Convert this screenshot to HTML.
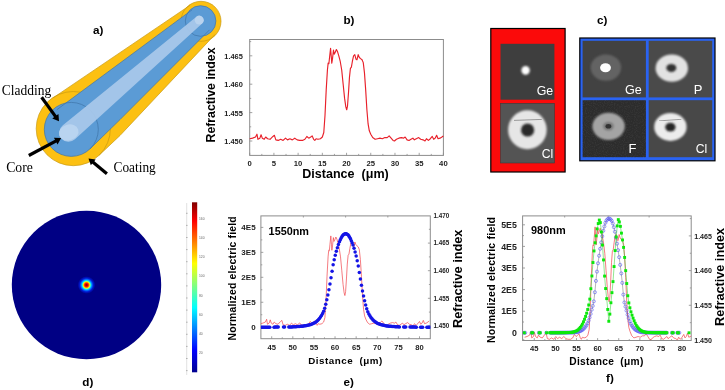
<!DOCTYPE html>
<html lang="en"><head><meta charset="utf-8"><title>Fiber figure</title>
<style>html,body{margin:0;padding:0;background:#fff;}svg{display:block;}</style></head><body>
<svg width="725" height="390" viewBox="0 0 725 390">
<defs>
<filter id="b1" x="-20%" y="-20%" width="140%" height="140%"><feGaussianBlur stdDeviation="0.6"/></filter>
<filter id="b2" x="-20%" y="-20%" width="140%" height="140%"><feGaussianBlur stdDeviation="0.8"/></filter>
<filter id="b03" x="-5%" y="-5%" width="110%" height="110%"><feGaussianBlur stdDeviation="0.35"/></filter>
<filter id="nz" x="0" y="0" width="100%" height="100%"><feTurbulence type="fractalNoise" baseFrequency="0.9" numOctaves="2" seed="3" result="n"/><feColorMatrix in="n" type="matrix" values="0 0 0 0 1  0 0 0 0 1  0 0 0 0 1  0.9 0 0 0 -0.38"/></filter>
<radialGradient id="spot"><stop offset="0" stop-color="#8a0000"/><stop offset="0.09" stop-color="#b00000"/><stop offset="0.21" stop-color="#ff1800"/><stop offset="0.31" stop-color="#ff9a00"/><stop offset="0.37" stop-color="#f4f400"/><stop offset="0.43" stop-color="#7dff7a"/><stop offset="0.50" stop-color="#00e4ff"/><stop offset="0.62" stop-color="#0070ff"/><stop offset="0.78" stop-color="#0018d0"/><stop offset="1" stop-color="#000084"/></radialGradient>
<linearGradient id="jet" x1="0" y1="0" x2="0" y2="1"><stop offset="0" stop-color="#800000"/><stop offset="0.11" stop-color="#ff0000"/><stop offset="0.36" stop-color="#ffff00"/><stop offset="0.49" stop-color="#80ff80"/><stop offset="0.62" stop-color="#00ffff"/><stop offset="0.87" stop-color="#0000ff"/><stop offset="1" stop-color="#00008f"/></linearGradient>
</defs>
<rect width="725" height="390" fill="#fff"/>
<g>
<polygon points="52.69,98.13 190.11,5.2 215.01,34.48 120,135.5 98.79,155.56" fill="#fcc012"/>
<circle cx="73.3" cy="128.6" r="37.1" fill="#fcc012"/>
<circle cx="201" cy="21.3" r="20" fill="#fcc012"/>
<polyline points="52.69,98.13 190.11,5.2" stroke="#c99a10" stroke-width="0.7" fill="none"/>
<polyline points="98.79,155.56 120,135.5 215.01,34.48" stroke="#c99a10" stroke-width="0.7" fill="none"/>
<circle cx="73.3" cy="128.6" r="37.1" fill="none" stroke="#c99a10" stroke-width="0.7"/>
<circle cx="201" cy="21.3" r="20" fill="none" stroke="#c99a10" stroke-width="0.7"/>
<polygon points="56.78,109.75 192.23,9.67 209.5,29.88 120,119.6 90.16,148.72" fill="#5b9bd5"/>
<circle cx="71.3" cy="129.4" r="27" fill="#5b9bd5"/>
<circle cx="200.6" cy="21" r="15.3" fill="#5b9bd5"/>
<polyline points="56.78,109.75 192.23,9.67" stroke="#3f74a8" stroke-width="0.7" fill="none"/>
<polyline points="90.16,148.72 120,119.6 209.5,29.88" stroke="#3f74a8" stroke-width="0.7" fill="none"/>
<circle cx="71.3" cy="129.4" r="27" fill="none" stroke="#3f74a8" stroke-width="0.7"/>
<circle cx="200.6" cy="21" r="15.3" fill="none" stroke="#3f74a8" stroke-width="0.7"/>
<path d="M74.96 139.37 L202.16 23.45 A4.4 4.4 0 0 0 196.43 16.78 L62.84 125.28 A9.3 9.3 0 1 0 74.96 139.37 Z" fill="#a9c9ea" opacity="0.92"/>
<ellipse cx="68.7" cy="132.5" rx="10" ry="8" fill="#b9d4f0" transform="rotate(-18 68.7 132.5)"/>
<circle cx="199.2" cy="20.2" r="4.4" fill="#b9d3ee"/>
</g>
<line x1="41.6" y1="97.2" x2="55.96" y2="117.08" stroke="#000" stroke-width="3.2"/>
<polygon points="59,121.3 52.29,118.5 58.45,114.05" fill="#000"/>
<line x1="28.8" y1="155.5" x2="56.62" y2="140.56" stroke="#000" stroke-width="3.2"/>
<polygon points="61.2,138.1 57.54,144.38 53.94,137.69" fill="#000"/>
<line x1="106.9" y1="173.8" x2="92.49" y2="161.74" stroke="#000" stroke-width="3.2"/>
<polygon points="88.5,158.4 95.69,159.47 90.82,165.29" fill="#000"/>
<text x="1.7" y="95.2" font-family='"Liberation Serif", "Times New Roman", serif' font-size="14.6" font-weight="normal" fill="#000" text-anchor="start" textLength="49.5" lengthAdjust="spacingAndGlyphs">Cladding</text>
<text x="6.2" y="171.9" font-family='"Liberation Serif", "Times New Roman", serif' font-size="14.6" font-weight="normal" fill="#000" text-anchor="start" textLength="26.7" lengthAdjust="spacingAndGlyphs">Core</text>
<text x="113.5" y="171.9" font-family='"Liberation Serif", "Times New Roman", serif' font-size="14.6" font-weight="normal" fill="#000" text-anchor="start" textLength="42.3" lengthAdjust="spacingAndGlyphs">Coating</text>
<text x="98.2" y="34.4" font-family='"Liberation Sans", Arial, sans-serif' font-size="11.7" font-weight="bold" fill="#000" text-anchor="middle">a)</text>
<text x="349" y="23.6" font-family='"Liberation Sans", Arial, sans-serif' font-size="11.7" font-weight="bold" fill="#000" text-anchor="middle">b)</text>
<text x="602.3" y="23.8" font-family='"Liberation Sans", Arial, sans-serif' font-size="11.7" font-weight="bold" fill="#000" text-anchor="middle">c)</text>
<text x="87.8" y="386.2" font-family='"Liberation Sans", Arial, sans-serif' font-size="11.7" font-weight="bold" fill="#000" text-anchor="middle">d)</text>
<text x="348.6" y="385.9" font-family='"Liberation Sans", Arial, sans-serif' font-size="11.7" font-weight="bold" fill="#000" text-anchor="middle">e)</text>
<text x="609.9" y="381.9" font-family='"Liberation Sans", Arial, sans-serif' font-size="11.7" font-weight="bold" fill="#000" text-anchor="middle">f)</text>
<g>
<rect x="249.7" y="39.5" width="193.7" height="115.9" fill="#fff" stroke="#8c8c8c" stroke-width="1"/>
<path d="M249.7 155.4 v-2.6 M261.81 155.4 v-1.5 M273.91 155.4 v-2.6 M286.02 155.4 v-1.5 M298.12 155.4 v-2.6 M310.23 155.4 v-1.5 M322.34 155.4 v-2.6 M334.44 155.4 v-1.5 M346.55 155.4 v-2.6 M358.66 155.4 v-1.5 M370.76 155.4 v-2.6 M382.87 155.4 v-1.5 M394.98 155.4 v-2.6 M407.08 155.4 v-1.5 M419.19 155.4 v-2.6 M431.29 155.4 v-1.5 M443.4 155.4 v-2.6 M249.7 141 h2.6 M249.7 126.8 h1.5 M249.7 112.6 h2.6 M249.7 98.4 h1.5 M249.7 84.2 h2.6 M249.7 70 h1.5 M249.7 55.8 h2.6 M249.7 41.6 h1.5" stroke="#8c8c8c" stroke-width="0.8" fill="none"/>
<polyline points="249.7,138.73 252.61,138.16 255.51,137.02 256.96,134.18 257.93,139.3 259.87,138.16 261.08,134.75 262.29,138.16 264.23,139.3 265.68,137.02 267.62,138.73 270.04,139.3 272.94,136.46 274.4,135.32 275.85,139.86 278.27,140.43 280.69,139.3 283.11,140.43 285.53,138.16 287.47,139.86 289.89,138.73 292.31,139.86 294.74,138.16 297.16,139.86 299.58,140.43 302.48,140.43 304.9,139.3 306.84,136.46 308.78,138.16 310.72,137.02 312.17,135.89 313.62,139.3 314.83,140.43 316.04,138.73 317.98,139.3 320.4,138.73 322.34,137.02 323.79,132.48 325,115.44 326.21,89.88 327.42,70 328.15,63.18 328.87,63.75 329.6,56.94 330.57,48.42 331.3,56.94 331.78,63.18 332.51,58.64 333.48,50.12 334.2,54.1 334.93,52.96 336.38,49.55 337.59,51.82 338.8,55.8 340.25,61.48 341.71,70 343.16,84.2 344.61,98.4 345.82,106.92 346.7,109.76 347.52,105.78 348.49,92.72 349.46,77.38 350.42,68.3 351.39,67.16 352.36,61.48 353.57,55.8 354.78,54.66 355.99,59.21 356.96,59.78 358.17,54.66 359.38,57.5 360.59,58.64 362.05,59.78 363.26,62.62 364.47,72.84 365.68,89.88 366.89,109.76 368.1,123.96 369.31,130.78 370.76,134.18 372.7,137.59 375.12,139.3 377.54,138.73 379.96,138.16 382.38,138.73 384.81,137.59 387.23,137.59 389.16,135.89 391.1,138.16 393.04,140.43 394.49,141 396.43,139.3 398.85,138.16 401.27,137.59 403.69,138.16 405.14,137.02 407.08,139.86 409.02,140.43 410.96,139.3 412.89,138.16 414.34,139.86 416.28,138.73 418.7,137.59 420.64,139.3 423.06,139.86 425,141 426.45,138.73 428.39,140.43 430.33,138.73 432.26,136.46 433.71,139.3 435.17,138.16 436.62,135.32 438.07,138.73 440.01,138.16 441.95,137.02 443.4,135.89" fill="none" stroke="#e8202a" stroke-width="1.15" stroke-linejoin="round"/>
<text x="249.7" y="166.2" font-family='"Liberation Sans", Arial, sans-serif' font-size="7.7" font-weight="bold" fill="#222" text-anchor="middle">0</text>
<text x="273.91" y="166.2" font-family='"Liberation Sans", Arial, sans-serif' font-size="7.7" font-weight="bold" fill="#222" text-anchor="middle">5</text>
<text x="298.12" y="166.2" font-family='"Liberation Sans", Arial, sans-serif' font-size="7.7" font-weight="bold" fill="#222" text-anchor="middle">10</text>
<text x="322.34" y="166.2" font-family='"Liberation Sans", Arial, sans-serif' font-size="7.7" font-weight="bold" fill="#222" text-anchor="middle">15</text>
<text x="346.55" y="166.2" font-family='"Liberation Sans", Arial, sans-serif' font-size="7.7" font-weight="bold" fill="#222" text-anchor="middle">20</text>
<text x="370.76" y="166.2" font-family='"Liberation Sans", Arial, sans-serif' font-size="7.7" font-weight="bold" fill="#222" text-anchor="middle">25</text>
<text x="394.98" y="166.2" font-family='"Liberation Sans", Arial, sans-serif' font-size="7.7" font-weight="bold" fill="#222" text-anchor="middle">30</text>
<text x="419.19" y="166.2" font-family='"Liberation Sans", Arial, sans-serif' font-size="7.7" font-weight="bold" fill="#222" text-anchor="middle">35</text>
<text x="443.4" y="166.2" font-family='"Liberation Sans", Arial, sans-serif' font-size="7.7" font-weight="bold" fill="#222" text-anchor="middle">40</text>
<text x="242.8" y="143.9" font-family='"Liberation Sans", Arial, sans-serif' font-size="7.4" font-weight="bold" fill="#222" text-anchor="end">1.450</text>
<text x="242.8" y="115.5" font-family='"Liberation Sans", Arial, sans-serif' font-size="7.4" font-weight="bold" fill="#222" text-anchor="end">1.455</text>
<text x="242.8" y="87.1" font-family='"Liberation Sans", Arial, sans-serif' font-size="7.4" font-weight="bold" fill="#222" text-anchor="end">1.460</text>
<text x="242.8" y="58.7" font-family='"Liberation Sans", Arial, sans-serif' font-size="7.4" font-weight="bold" fill="#222" text-anchor="end">1.465</text>
<text x="215" y="95" font-family='"Liberation Sans", Arial, sans-serif' font-size="12.8" font-weight="bold" fill="#000" text-anchor="middle" transform="rotate(-90 215 95)" textLength="95" lengthAdjust="spacingAndGlyphs">Refractive index</text>
<text x="345.5" y="177.8" font-family='"Liberation Sans", Arial, sans-serif' font-size="12.4" font-weight="bold" fill="#000" text-anchor="middle" textLength="86.5" lengthAdjust="spacingAndGlyphs" xml:space="preserve">Distance  (μm)</text>
</g>
<g>
<rect x="490.8" y="28.5" width="74.3" height="143.5" fill="#fb0a0a" stroke="#000" stroke-width="1.2"/>
<rect x="500.5" y="43.8" width="53.9" height="55.9" fill="#3e3e3e"/>
<ellipse cx="525.6" cy="70.3" rx="4.2" ry="4.4" fill="#fff" filter="url(#b2)"/>
<rect x="500.5" y="103.3" width="53.9" height="59.7" fill="#545454" stroke="#3a3a3a" stroke-width="0.6"/>
<ellipse cx="527.4" cy="129.7" rx="19.3" ry="19.5" fill="#e6e6e6" filter="url(#b2)"/>
<ellipse cx="527.6" cy="130.0" rx="6.6" ry="6.6" fill="#2a2a2a" filter="url(#b2)"/>
<line x1="514.0" y1="120.4" x2="541.8" y2="119.4" stroke="#777" stroke-width="0.7" filter="url(#b03)"/>
<text x="553.2" y="95" font-family='"Liberation Sans", Arial, sans-serif' font-size="13" font-weight="normal" fill="#fff" text-anchor="end" textLength="16.5" lengthAdjust="spacingAndGlyphs">Ge</text>
<text x="553.2" y="158" font-family='"Liberation Sans", Arial, sans-serif' font-size="13" font-weight="normal" fill="#fff" text-anchor="end" textLength="11.5" lengthAdjust="spacingAndGlyphs">Cl</text>
<rect x="579.8" y="38.0" width="135.2" height="122.8" fill="#2a63f2" stroke="#000" stroke-width="1.2"/>
<rect x="582.6" y="40.8" width="63.3" height="56.6" fill="#424242"/>
<rect x="648.7" y="40.8" width="63.5" height="56.6" fill="#4a4a4a"/>
<rect x="582.6" y="100.2" width="63.3" height="57" fill="#2c2c2c"/>
<rect x="648.7" y="100.2" width="63.5" height="57" fill="#484848"/>
<rect x="582.6" y="100.2" width="63.3" height="57" fill="#fff" opacity="0.16" filter="url(#nz)"/>
<g filter="url(#b2)"><ellipse cx="605.9" cy="67.6" rx="15.2" ry="13.2" fill="#636363"/></g>
<ellipse cx="605.5" cy="67.8" rx="5.4" ry="4.5" fill="#fff" filter="url(#b1)"/>
<ellipse cx="671.8" cy="68.2" rx="16.2" ry="13.6" fill="#e2e2e2" filter="url(#b2)"/>
<ellipse cx="671.3" cy="67.9" rx="5.0" ry="4.0" fill="#303030" filter="url(#b2)"/>
<ellipse cx="608.6" cy="126.3" rx="16.2" ry="13.6" fill="#a4a4a4" filter="url(#b2)"/>
<ellipse cx="608.4" cy="126.3" rx="5.2" ry="4.2" fill="#767676" filter="url(#b2)"/>
<ellipse cx="608.4" cy="126.3" rx="2.9" ry="2.3" fill="#333" filter="url(#b1)"/>
<ellipse cx="670.4" cy="126.9" rx="16.2" ry="14.0" fill="#ececec" filter="url(#b2)"/>
<ellipse cx="670.4" cy="127.1" rx="5.2" ry="4.3" fill="#262626" filter="url(#b2)"/>
<line x1="659.0" y1="120.9" x2="681.4" y2="119.3" stroke="#808080" stroke-width="0.7" filter="url(#b03)"/>
<text x="641.8" y="94.4" font-family='"Liberation Sans", Arial, sans-serif' font-size="13" font-weight="normal" fill="#fff" text-anchor="end" textLength="16.8" lengthAdjust="spacingAndGlyphs">Ge</text>
<text x="702.4" y="94.4" font-family='"Liberation Sans", Arial, sans-serif' font-size="13" font-weight="normal" fill="#fff" text-anchor="end">P</text>
<text x="636.4" y="153.4" font-family='"Liberation Sans", Arial, sans-serif' font-size="13" font-weight="normal" fill="#fff" text-anchor="end">F</text>
<text x="707.2" y="153.4" font-family='"Liberation Sans", Arial, sans-serif' font-size="13" font-weight="normal" fill="#fff" text-anchor="end" textLength="11.5" lengthAdjust="spacingAndGlyphs">Cl</text>
</g>
<g>
<ellipse cx="86.5" cy="285.0" rx="74.7" ry="74.3" fill="#000084"/>
<circle cx="86.5" cy="285.0" r="8.8" fill="url(#spot)"/>
<rect x="192.0" y="202.3" width="5.2" height="170" fill="url(#jet)"/>
<line x1="186.7" y1="203" x2="186.7" y2="375" stroke="#d4d4d4" stroke-width="0.7"/>
<path d="M186 213.3 h1.6 M186 225.4 h1.6 M186 237.5 h1.6 M186 249.6 h1.6 M186 261.7 h1.6 M186 273.8 h1.6 M186 285.9 h1.6 M186 298 h1.6 M186 310.1 h1.6 M186 322.2 h1.6 M186 334.3 h1.6 M186 346.4 h1.6 M186 358.5 h1.6 M186 370.6 h1.6" stroke="#9a9a9a" stroke-width="0.7" fill="none"/>
<text x="199" y="220.1" font-family='"Liberation Sans", Arial, sans-serif' font-size="3.3" font-weight="normal" fill="#666" text-anchor="start">160</text>
<text x="199" y="239.2" font-family='"Liberation Sans", Arial, sans-serif' font-size="3.3" font-weight="normal" fill="#666" text-anchor="start">140</text>
<text x="199" y="258.3" font-family='"Liberation Sans", Arial, sans-serif' font-size="3.3" font-weight="normal" fill="#666" text-anchor="start">120</text>
<text x="199" y="277.4" font-family='"Liberation Sans", Arial, sans-serif' font-size="3.3" font-weight="normal" fill="#666" text-anchor="start">100</text>
<text x="199" y="296.5" font-family='"Liberation Sans", Arial, sans-serif' font-size="3.3" font-weight="normal" fill="#666" text-anchor="start">80</text>
<text x="199" y="315.6" font-family='"Liberation Sans", Arial, sans-serif' font-size="3.3" font-weight="normal" fill="#666" text-anchor="start">60</text>
<text x="199" y="334.7" font-family='"Liberation Sans", Arial, sans-serif' font-size="3.3" font-weight="normal" fill="#666" text-anchor="start">40</text>
<text x="199" y="353.8" font-family='"Liberation Sans", Arial, sans-serif' font-size="3.3" font-weight="normal" fill="#666" text-anchor="start">20</text>
</g>
<g>
<rect x="260.9" y="215.9" width="169.4" height="122.8" fill="#fff" stroke="#8c8c8c" stroke-width="1"/>
<path d="M271.7 338.7 v-2.4 M282.26 338.7 v-1.4 M292.81 338.7 v-2.4 M303.37 338.7 v-1.4 M313.93 338.7 v-2.4 M324.49 338.7 v-1.4 M335.04 338.7 v-2.4 M345.6 338.7 v-1.4 M356.16 338.7 v-2.4 M366.72 338.7 v-1.4 M377.27 338.7 v-2.4 M387.83 338.7 v-1.4 M398.39 338.7 v-2.4 M408.95 338.7 v-1.4 M419.5 338.7 v-2.4 M303.37 215.9 v1.6 M345.6 215.9 v1.6 M387.83 215.9 v1.6 M260.9 327.2 h2.4 M260.9 314.72 h1.4 M260.9 302.25 h2.4 M260.9 289.77 h1.4 M260.9 277.3 h2.4 M260.9 264.82 h1.4 M260.9 252.35 h2.4 M260.9 239.88 h1.4 M260.9 227.4 h2.4 M430.3 325.9 h-2.4 M430.3 312.1 h-1.4 M430.3 298.3 h-2.4 M430.3 284.5 h-1.4 M430.3 270.7 h-2.4 M430.3 256.9 h-1.4 M430.3 243.1 h-2.4 M430.3 229.3 h-1.4" stroke="#8c8c8c" stroke-width="0.8" fill="none"/>
<clipPath id="ce"><rect x="260.9" y="215.9" width="169.4" height="122.8"/></clipPath>
<g clip-path="url(#ce)">
<polyline points="260.3,323.69 262.83,323.14 265.37,322.04 266.63,319.28 267.48,324.24 269.17,323.14 270.22,319.83 271.28,323.14 272.97,324.24 274.23,322.04 275.92,323.69 278.03,324.24 280.57,321.48 281.84,320.38 283.1,324.8 285.21,325.35 287.33,324.24 289.44,325.35 291.55,323.14 293.24,324.8 295.35,323.69 297.46,324.8 299.57,323.14 301.68,324.8 303.79,325.35 306.33,325.35 308.44,324.24 310.13,321.48 311.82,323.14 313.51,322.04 314.77,320.93 316.04,324.24 317.1,325.35 318.15,323.69 319.84,324.24 321.95,323.69 323.64,322.04 324.91,317.62 325.97,301.06 327.02,276.22 328.08,256.9 328.71,250.28 329.34,250.83 329.98,244.2 330.82,235.92 331.46,244.2 331.88,250.28 332.51,245.86 333.36,237.58 333.99,241.44 334.62,240.34 335.89,237.03 336.95,239.24 338,243.1 339.27,248.62 340.53,256.9 341.8,270.7 343.07,284.5 344.12,292.78 344.88,295.54 345.6,291.68 346.45,278.98 347.29,264.08 348.14,255.24 348.98,254.14 349.83,248.62 350.88,243.1 351.94,242 352.99,246.41 353.84,246.96 354.89,242 355.95,244.76 357,245.86 358.27,246.96 359.33,249.72 360.38,259.66 361.44,276.22 362.49,295.54 363.55,309.34 364.61,315.96 365.87,319.28 367.56,322.59 369.67,324.24 371.79,323.69 373.9,323.14 376.01,323.69 378.12,322.59 380.23,322.59 381.92,320.93 383.61,323.14 385.3,325.35 386.57,325.9 388.25,324.24 390.37,323.14 392.48,322.59 394.59,323.14 395.86,322.04 397.55,324.8 399.23,325.35 400.92,324.24 402.61,323.14 403.88,324.8 405.57,323.69 407.68,322.59 409.37,324.24 411.48,324.8 413.17,325.9 414.44,323.69 416.13,325.35 417.82,323.69 419.5,321.48 420.77,324.24 422.04,323.14 423.31,320.38 424.57,323.69 426.26,323.14 427.95,322.04 429.22,320.93" fill="none" stroke="#f0444a" stroke-width="0.7" stroke-linejoin="round"/>
<g fill="#1414e6"><circle cx="261.35" cy="327.19" r="1.75"/><circle cx="262.41" cy="327.18" r="1.75"/><circle cx="263.47" cy="327.18" r="1.75"/><circle cx="264.52" cy="327.18" r="1.75"/><circle cx="265.58" cy="327.17" r="1.75"/><circle cx="266.63" cy="327.17" r="1.75"/><circle cx="267.69" cy="327.16" r="1.75"/><circle cx="268.74" cy="327.16" r="1.75"/><circle cx="269.8" cy="327.15" r="1.75"/><circle cx="274.02" cy="327.13" r="1.75"/><circle cx="275.08" cy="327.12" r="1.75"/><circle cx="276.13" cy="327.12" r="1.75"/><circle cx="277.19" cy="327.11" r="1.75"/><circle cx="278.25" cy="327.11" r="1.75"/><circle cx="283.52" cy="327.05" r="1.75"/><circle cx="284.58" cy="327.04" r="1.75"/><circle cx="288.8" cy="326.96" r="1.75"/><circle cx="289.86" cy="326.94" r="1.75"/><circle cx="290.91" cy="326.91" r="1.75"/><circle cx="291.97" cy="326.88" r="1.75"/><circle cx="293.03" cy="326.84" r="1.75"/><circle cx="294.08" cy="326.79" r="1.75"/><circle cx="295.14" cy="326.73" r="1.75"/><circle cx="296.19" cy="326.66" r="1.75"/><circle cx="297.25" cy="326.59" r="1.75"/><circle cx="298.3" cy="326.51" r="1.75"/><circle cx="299.36" cy="326.44" r="1.75"/><circle cx="300.42" cy="326.35" r="1.75"/><circle cx="301.47" cy="326.25" r="1.75"/><circle cx="302.53" cy="326.14" r="1.75"/><circle cx="303.58" cy="326.01" r="1.75"/><circle cx="304.64" cy="325.87" r="1.75"/><circle cx="305.7" cy="325.71" r="1.75"/><circle cx="306.75" cy="325.54" r="1.75"/><circle cx="307.81" cy="325.32" r="1.75"/><circle cx="308.86" cy="325.06" r="1.75"/><circle cx="309.92" cy="324.76" r="1.75"/><circle cx="310.97" cy="324.42" r="1.75"/><circle cx="312.03" cy="324.03" r="1.75"/><circle cx="313.09" cy="323.57" r="1.75"/><circle cx="314.14" cy="323.02" r="1.75"/><circle cx="315.2" cy="322.38" r="1.75"/><circle cx="316.25" cy="321.66" r="1.75"/><circle cx="317.31" cy="320.84" r="1.75"/><circle cx="318.36" cy="319.82" r="1.75"/><circle cx="319.42" cy="318.53" r="1.75"/><circle cx="320.48" cy="317.07" r="1.75"/><circle cx="321.53" cy="315.44" r="1.75"/><circle cx="322.59" cy="313.53" r="1.75"/><circle cx="323.64" cy="311.2" r="1.75"/><circle cx="324.7" cy="308.13" r="1.75"/><circle cx="325.75" cy="304.25" r="1.75"/><circle cx="326.81" cy="299.82" r="1.75"/><circle cx="327.87" cy="295.11" r="1.75"/><circle cx="328.92" cy="289.86" r="1.75"/><circle cx="329.98" cy="283.97" r="1.75"/><circle cx="331.03" cy="277.87" r="1.75"/><circle cx="332.09" cy="271.17" r="1.75"/><circle cx="333.14" cy="264.76" r="1.75"/><circle cx="334.2" cy="259.68" r="1.75"/><circle cx="335.26" cy="255.22" r="1.75"/><circle cx="336.31" cy="251.24" r="1.75"/><circle cx="337.37" cy="247.68" r="1.75"/><circle cx="338.42" cy="244.49" r="1.75"/><circle cx="339.48" cy="241.64" r="1.75"/><circle cx="340.32" cy="239.69" r="1.75"/><circle cx="341.17" cy="237.97" r="1.75"/><circle cx="342.01" cy="236.4" r="1.75"/><circle cx="342.86" cy="235.24" r="1.75"/><circle cx="343.7" cy="234.53" r="1.75"/><circle cx="344.55" cy="233.95" r="1.75"/><circle cx="345.39" cy="233.65" r="1.75"/><circle cx="346.24" cy="233.76" r="1.75"/><circle cx="347.08" cy="234.21" r="1.75"/><circle cx="347.93" cy="234.87" r="1.75"/><circle cx="348.77" cy="235.75" r="1.75"/><circle cx="349.61" cy="237.15" r="1.75"/><circle cx="350.46" cy="238.82" r="1.75"/><circle cx="351.3" cy="240.63" r="1.75"/><circle cx="352.15" cy="242.73" r="1.75"/><circle cx="352.99" cy="245.1" r="1.75"/><circle cx="354.05" cy="248.36" r="1.75"/><circle cx="355.1" cy="252" r="1.75"/><circle cx="356.16" cy="256.07" r="1.75"/><circle cx="357.22" cy="260.64" r="1.75"/><circle cx="358.27" cy="265.94" r="1.75"/><circle cx="359.33" cy="272.54" r="1.75"/><circle cx="360.38" cy="279.11" r="1.75"/><circle cx="361.44" cy="285.17" r="1.75"/><circle cx="362.49" cy="290.97" r="1.75"/><circle cx="363.55" cy="296.06" r="1.75"/><circle cx="364.61" cy="300.74" r="1.75"/><circle cx="365.66" cy="305.08" r="1.75"/><circle cx="366.72" cy="308.82" r="1.75"/><circle cx="367.77" cy="311.71" r="1.75"/><circle cx="368.83" cy="313.94" r="1.75"/><circle cx="369.88" cy="315.79" r="1.75"/><circle cx="370.94" cy="317.38" r="1.75"/><circle cx="372" cy="318.81" r="1.75"/><circle cx="373.05" cy="320.04" r="1.75"/><circle cx="374.11" cy="321.01" r="1.75"/><circle cx="375.16" cy="321.81" r="1.75"/><circle cx="376.22" cy="322.52" r="1.75"/><circle cx="377.28" cy="323.14" r="1.75"/><circle cx="378.33" cy="323.67" r="1.75"/><circle cx="379.39" cy="324.11" r="1.75"/><circle cx="380.44" cy="324.49" r="1.75"/><circle cx="381.5" cy="324.82" r="1.75"/><circle cx="382.55" cy="325.12" r="1.75"/><circle cx="383.61" cy="325.37" r="1.75"/><circle cx="384.67" cy="325.57" r="1.75"/><circle cx="385.72" cy="325.74" r="1.75"/><circle cx="386.78" cy="325.9" r="1.75"/><circle cx="387.83" cy="326.04" r="1.75"/><circle cx="388.89" cy="326.16" r="1.75"/><circle cx="389.94" cy="326.27" r="1.75"/><circle cx="391" cy="326.37" r="1.75"/><circle cx="392.06" cy="326.45" r="1.75"/><circle cx="393.11" cy="326.53" r="1.75"/><circle cx="394.17" cy="326.61" r="1.75"/><circle cx="395.22" cy="326.68" r="1.75"/><circle cx="396.28" cy="326.74" r="1.75"/><circle cx="397.33" cy="326.8" r="1.75"/><circle cx="398.39" cy="326.85" r="1.75"/><circle cx="399.45" cy="326.89" r="1.75"/><circle cx="403.67" cy="326.99" r="1.75"/><circle cx="404.72" cy="327.01" r="1.75"/><circle cx="405.78" cy="327.03" r="1.75"/><circle cx="410" cy="327.08" r="1.75"/><circle cx="411.06" cy="327.09" r="1.75"/><circle cx="412.11" cy="327.1" r="1.75"/><circle cx="413.17" cy="327.11" r="1.75"/><circle cx="414.23" cy="327.11" r="1.75"/><circle cx="415.28" cy="327.12" r="1.75"/><circle cx="416.34" cy="327.13" r="1.75"/><circle cx="420.56" cy="327.15" r="1.75"/><circle cx="421.62" cy="327.15" r="1.75"/><circle cx="422.67" cy="327.16" r="1.75"/><circle cx="426.9" cy="327.18" r="1.75"/><circle cx="427.95" cy="327.18" r="1.75"/><circle cx="429.01" cy="327.18" r="1.75"/><circle cx="430.06" cy="327.19" r="1.75"/></g>
</g>
<text x="271.7" y="349.6" font-family='"Liberation Sans", Arial, sans-serif' font-size="7.6" font-weight="bold" fill="#222" text-anchor="middle">45</text>
<text x="292.81" y="349.6" font-family='"Liberation Sans", Arial, sans-serif' font-size="7.6" font-weight="bold" fill="#222" text-anchor="middle">50</text>
<text x="313.93" y="349.6" font-family='"Liberation Sans", Arial, sans-serif' font-size="7.6" font-weight="bold" fill="#222" text-anchor="middle">55</text>
<text x="335.04" y="349.6" font-family='"Liberation Sans", Arial, sans-serif' font-size="7.6" font-weight="bold" fill="#222" text-anchor="middle">60</text>
<text x="356.16" y="349.6" font-family='"Liberation Sans", Arial, sans-serif' font-size="7.6" font-weight="bold" fill="#222" text-anchor="middle">65</text>
<text x="377.27" y="349.6" font-family='"Liberation Sans", Arial, sans-serif' font-size="7.6" font-weight="bold" fill="#222" text-anchor="middle">70</text>
<text x="398.39" y="349.6" font-family='"Liberation Sans", Arial, sans-serif' font-size="7.6" font-weight="bold" fill="#222" text-anchor="middle">75</text>
<text x="419.5" y="349.6" font-family='"Liberation Sans", Arial, sans-serif' font-size="7.6" font-weight="bold" fill="#222" text-anchor="middle">80</text>
<text x="255.6" y="330.1" font-family='"Liberation Sans", Arial, sans-serif' font-size="8" font-weight="bold" fill="#222" text-anchor="end">0</text>
<text x="255.6" y="305.15" font-family='"Liberation Sans", Arial, sans-serif' font-size="8" font-weight="bold" fill="#222" text-anchor="end">1E5</text>
<text x="255.6" y="280.2" font-family='"Liberation Sans", Arial, sans-serif' font-size="8" font-weight="bold" fill="#222" text-anchor="end">2E5</text>
<text x="255.6" y="255.25" font-family='"Liberation Sans", Arial, sans-serif' font-size="8" font-weight="bold" fill="#222" text-anchor="end">3E5</text>
<text x="255.6" y="230.3" font-family='"Liberation Sans", Arial, sans-serif' font-size="8" font-weight="bold" fill="#222" text-anchor="end">4E5</text>
<text x="433.6" y="328.2" font-family='"Liberation Sans", Arial, sans-serif' font-size="6.3" font-weight="bold" fill="#222" text-anchor="start">1.450</text>
<text x="433.6" y="300.6" font-family='"Liberation Sans", Arial, sans-serif' font-size="6.3" font-weight="bold" fill="#222" text-anchor="start">1.455</text>
<text x="433.6" y="273" font-family='"Liberation Sans", Arial, sans-serif' font-size="6.3" font-weight="bold" fill="#222" text-anchor="start">1.460</text>
<text x="433.6" y="245.4" font-family='"Liberation Sans", Arial, sans-serif' font-size="6.3" font-weight="bold" fill="#222" text-anchor="start">1.465</text>
<text x="433.6" y="217.8" font-family='"Liberation Sans", Arial, sans-serif' font-size="6.3" font-weight="bold" fill="#222" text-anchor="start">1.470</text>
<text x="268.6" y="234.6" font-family='"Liberation Sans", Arial, sans-serif' font-size="11.3" font-weight="bold" fill="#000" text-anchor="start" textLength="40.4" lengthAdjust="spacingAndGlyphs">1550nm</text>
<text x="236.3" y="278.4" font-family='"Liberation Sans", Arial, sans-serif' font-size="10.4" font-weight="bold" fill="#000" text-anchor="middle" transform="rotate(-90 236.3 278.4)" textLength="124" lengthAdjust="spacing">Normalized electric field</text>
<text x="345.3" y="364" font-family='"Liberation Sans", Arial, sans-serif' font-size="9.8" font-weight="bold" fill="#000" text-anchor="middle" textLength="74" lengthAdjust="spacing" xml:space="preserve">Distance  (μm)</text>
<text x="461.6" y="278.8" font-family='"Liberation Sans", Arial, sans-serif' font-size="13.2" font-weight="bold" fill="#000" text-anchor="middle" transform="rotate(-90 461.6 278.8)" textLength="98.5" lengthAdjust="spacingAndGlyphs">Refractive index</text>
</g>
<g>
<rect x="522.6" y="215.9" width="168.6" height="124.6" fill="#fff" stroke="#8c8c8c" stroke-width="1"/>
<path d="M523.73 340.5 v-1.4 M534.28 340.5 v-2.4 M544.84 340.5 v-1.4 M555.39 340.5 v-2.4 M565.95 340.5 v-1.4 M576.5 340.5 v-2.4 M587.05 340.5 v-1.4 M597.61 340.5 v-2.4 M608.16 340.5 v-1.4 M618.72 340.5 v-2.4 M629.27 340.5 v-1.4 M639.83 340.5 v-2.4 M650.38 340.5 v-1.4 M660.94 340.5 v-2.4 M671.5 340.5 v-1.4 M682.05 340.5 v-2.4 M564.68 215.9 v1.6 M608.16 215.9 v1.6 M649.12 215.9 v1.6 M522.6 332.8 h2.4 M522.6 322 h1.4 M522.6 311.2 h2.4 M522.6 300.4 h1.4 M522.6 289.6 h2.4 M522.6 278.8 h1.4 M522.6 268 h2.4 M522.6 257.2 h1.4 M522.6 246.4 h2.4 M522.6 235.6 h1.4 M522.6 224.8 h2.4 M691.2 322.65 h-1.4 M691.2 305.3 h-2.4 M691.2 287.95 h-1.4 M691.2 270.6 h-2.4 M691.2 253.25 h-1.4 M691.2 235.9 h-2.4 M691.2 218.55 h-1.4" stroke="#8c8c8c" stroke-width="0.8" fill="none"/>
<clipPath id="cf"><rect x="522.6" y="215.9" width="168.6" height="124.6"/></clipPath>
<g clip-path="url(#cf)">
<polyline points="524.57,337.22 527.1,336.53 529.64,335.14 530.9,331.67 531.75,337.92 533.44,336.53 534.49,332.37 535.55,336.53 537.24,337.92 538.5,335.14 540.19,337.22 542.3,337.92 544.83,334.45 546.1,333.06 547.37,338.61 549.48,339.31 551.59,337.92 553.7,339.31 555.81,336.53 557.5,338.61 559.61,337.22 561.72,338.61 563.83,336.53 565.94,338.61 568.06,339.31 570.59,339.31 572.7,337.92 574.39,334.45 576.08,336.53 577.77,335.14 579.03,333.75 580.3,337.92 581.36,339.31 582.41,337.22 584.1,337.92 586.21,337.22 587.9,335.14 589.17,329.59 590.22,308.77 591.28,277.54 592.33,253.25 592.97,244.92 593.6,245.62 594.23,237.29 595.08,226.88 595.71,237.29 596.13,244.92 596.77,239.37 597.61,228.96 598.24,233.82 598.88,232.43 600.14,228.27 601.2,231.04 602.25,235.9 603.52,242.84 604.79,253.25 606.05,270.6 607.32,287.95 608.38,298.36 609.14,301.83 609.85,296.97 610.7,281.01 611.54,262.27 612.39,251.17 613.23,249.78 614.08,242.84 615.13,235.9 616.19,234.51 617.24,240.06 618.09,240.76 619.14,234.51 620.2,237.98 621.25,239.37 622.52,240.76 623.58,244.23 624.63,256.72 625.69,277.54 626.74,301.83 627.8,319.18 628.85,327.51 630.12,331.67 631.81,335.84 633.92,337.92 636.03,337.22 638.14,336.53 640.25,337.22 642.36,335.84 644.47,335.84 646.16,333.75 647.85,336.53 649.54,339.31 650.81,340 652.5,337.92 654.61,336.53 656.72,335.84 658.83,336.53 660.1,335.14 661.78,338.61 663.47,339.31 665.16,337.92 666.85,336.53 668.12,338.61 669.81,337.22 671.92,335.84 673.61,337.92 675.72,338.61 677.41,340 678.67,337.22 680.36,339.31 682.05,337.22 683.74,334.45 685.01,337.92 686.27,336.53 687.54,333.06 688.81,337.22 690.49,336.53 692.18,335.14 693.45,333.75" fill="none" stroke="#f0444a" stroke-width="0.7" stroke-linejoin="round"/>
<polyline points="560.03,332.69 561.09,332.68 562.15,332.68 563.2,332.67 564.26,332.66 565.31,332.65 566.37,332.65 567.42,332.64 568.48,332.63 569.53,332.62 570.59,332.59 571.64,332.55 572.7,332.49 573.76,332.41 574.81,332.32 575.87,332.22 576.92,332.1 577.98,331.87 579.03,331.55 580.09,331.13 581.14,330.64 582.2,330.05 583.26,329.21 584.31,328.12 585.37,326.8 586.42,325.27 587.48,323.34 588.53,320.62 589.59,317.44 590.64,313.89 591.7,309.76 592.75,305.9 593.81,301.38 594.87,292.26 595.92,280.94 596.98,271.61 598.03,263.29 599.09,255.74 600.14,248.82 601.2,242.39 602.25,236.19 603.31,230.72 604.37,226.44 605.42,222.79 606.48,220.48 607.53,219.31 608.59,218.61 609.64,218.69 610.7,219.52 611.75,220.78 612.81,223.45 613.86,227.24 614.92,231.73 615.98,237.39 617.03,243.67 618.09,250.16 619.14,257.2 620.2,264.87 621.25,273.4 622.31,282.9 623.36,294.62 624.42,302.46 625.48,306.65 626.53,310.59 627.59,314.67 628.64,318.1 629.7,321.22 630.75,323.8 631.81,325.59 632.86,327.08 633.92,328.35 634.97,329.39 636.03,330.18 637.09,330.74 638.14,331.22 639.2,331.62 640.25,331.93 641.31,332.13 642.36,332.24 643.42,332.34 644.47,332.43 645.53,332.5 646.59,332.56 647.64,332.6 648.7,332.62 649.75,332.63 650.81,332.64 651.86,332.65 652.92,332.66 653.97,332.66 655.03,332.67 656.08,332.68 657.14,332.68 658.2,332.69 659.25,332.7" fill="none" stroke="#444" stroke-width="0.4"/>
<g fill="none" stroke="#4a4af6" stroke-width="0.55"><circle cx="524.15" cy="332.8" r="1.55"/><circle cx="525.2" cy="332.8" r="1.55"/><circle cx="531.54" cy="332.79" r="1.55"/><circle cx="532.59" cy="332.79" r="1.55"/><circle cx="538.92" cy="332.78" r="1.55"/><circle cx="539.98" cy="332.77" r="1.55"/><circle cx="546.31" cy="332.75" r="1.55"/><circle cx="550.53" cy="332.74" r="1.55"/><circle cx="551.59" cy="332.73" r="1.55"/><circle cx="552.65" cy="332.73" r="1.55"/><circle cx="553.7" cy="332.72" r="1.55"/><circle cx="554.76" cy="332.72" r="1.55"/><circle cx="555.81" cy="332.71" r="1.55"/><circle cx="556.87" cy="332.71" r="1.55"/><circle cx="557.92" cy="332.7" r="1.55"/><circle cx="558.98" cy="332.7" r="1.55"/><circle cx="560.03" cy="332.69" r="1.55"/><circle cx="561.09" cy="332.68" r="1.55"/><circle cx="562.15" cy="332.68" r="1.55"/><circle cx="563.2" cy="332.67" r="1.55"/><circle cx="564.26" cy="332.66" r="1.55"/><circle cx="565.31" cy="332.65" r="1.55"/><circle cx="566.37" cy="332.65" r="1.55"/><circle cx="567.42" cy="332.64" r="1.55"/><circle cx="568.48" cy="332.63" r="1.55"/><circle cx="569.53" cy="332.62" r="1.55"/><circle cx="570.59" cy="332.59" r="1.55"/><circle cx="571.64" cy="332.55" r="1.55"/><circle cx="572.7" cy="332.49" r="1.55"/><circle cx="573.76" cy="332.41" r="1.55"/><circle cx="574.81" cy="332.32" r="1.55"/><circle cx="575.87" cy="332.22" r="1.55"/><circle cx="576.92" cy="332.1" r="1.55"/><circle cx="577.98" cy="331.87" r="1.55"/><circle cx="579.03" cy="331.55" r="1.55"/><circle cx="580.09" cy="331.13" r="1.55"/><circle cx="581.14" cy="330.64" r="1.55"/><circle cx="582.2" cy="330.05" r="1.55"/><circle cx="583.26" cy="329.21" r="1.55"/><circle cx="584.31" cy="328.12" r="1.55"/><circle cx="585.37" cy="326.8" r="1.55"/><circle cx="586.42" cy="325.27" r="1.55"/><circle cx="587.48" cy="323.34" r="1.55"/><circle cx="588.53" cy="320.62" r="1.55"/><circle cx="589.59" cy="317.44" r="1.55"/><circle cx="590.64" cy="313.89" r="1.55"/><circle cx="591.7" cy="309.76" r="1.55"/><circle cx="592.75" cy="305.9" r="1.55"/><circle cx="593.81" cy="301.38" r="1.55"/><circle cx="594.87" cy="292.26" r="1.55"/><circle cx="595.92" cy="280.94" r="1.55"/><circle cx="596.98" cy="271.61" r="1.55"/><circle cx="598.03" cy="263.29" r="1.55"/><circle cx="599.09" cy="255.74" r="1.55"/><circle cx="600.14" cy="248.82" r="1.55"/><circle cx="601.2" cy="242.39" r="1.55"/><circle cx="602.25" cy="236.19" r="1.55"/><circle cx="603.31" cy="230.72" r="1.55"/><circle cx="604.37" cy="226.44" r="1.55"/><circle cx="605.42" cy="222.79" r="1.55"/><circle cx="606.48" cy="220.48" r="1.55"/><circle cx="607.53" cy="219.31" r="1.55"/><circle cx="608.59" cy="218.61" r="1.55"/><circle cx="609.64" cy="218.69" r="1.55"/><circle cx="610.7" cy="219.52" r="1.55"/><circle cx="611.75" cy="220.78" r="1.55"/><circle cx="612.81" cy="223.45" r="1.55"/><circle cx="613.86" cy="227.24" r="1.55"/><circle cx="614.92" cy="231.73" r="1.55"/><circle cx="615.98" cy="237.39" r="1.55"/><circle cx="617.03" cy="243.67" r="1.55"/><circle cx="618.09" cy="250.16" r="1.55"/><circle cx="619.14" cy="257.2" r="1.55"/><circle cx="620.2" cy="264.87" r="1.55"/><circle cx="621.25" cy="273.4" r="1.55"/><circle cx="622.31" cy="282.9" r="1.55"/><circle cx="623.36" cy="294.62" r="1.55"/><circle cx="624.42" cy="302.46" r="1.55"/><circle cx="625.48" cy="306.65" r="1.55"/><circle cx="626.53" cy="310.59" r="1.55"/><circle cx="627.59" cy="314.67" r="1.55"/><circle cx="628.64" cy="318.1" r="1.55"/><circle cx="629.7" cy="321.22" r="1.55"/><circle cx="630.75" cy="323.8" r="1.55"/><circle cx="631.81" cy="325.59" r="1.55"/><circle cx="632.86" cy="327.08" r="1.55"/><circle cx="633.92" cy="328.35" r="1.55"/><circle cx="634.97" cy="329.39" r="1.55"/><circle cx="636.03" cy="330.18" r="1.55"/><circle cx="637.09" cy="330.74" r="1.55"/><circle cx="638.14" cy="331.22" r="1.55"/><circle cx="639.2" cy="331.62" r="1.55"/><circle cx="640.25" cy="331.93" r="1.55"/><circle cx="641.31" cy="332.13" r="1.55"/><circle cx="642.36" cy="332.24" r="1.55"/><circle cx="643.42" cy="332.34" r="1.55"/><circle cx="644.47" cy="332.43" r="1.55"/><circle cx="645.53" cy="332.5" r="1.55"/><circle cx="646.59" cy="332.56" r="1.55"/><circle cx="647.64" cy="332.6" r="1.55"/><circle cx="648.7" cy="332.62" r="1.55"/><circle cx="649.75" cy="332.63" r="1.55"/><circle cx="650.81" cy="332.64" r="1.55"/><circle cx="651.86" cy="332.65" r="1.55"/><circle cx="652.92" cy="332.66" r="1.55"/><circle cx="653.97" cy="332.66" r="1.55"/><circle cx="655.03" cy="332.67" r="1.55"/><circle cx="656.08" cy="332.68" r="1.55"/><circle cx="657.14" cy="332.68" r="1.55"/><circle cx="658.2" cy="332.69" r="1.55"/><circle cx="659.25" cy="332.7" r="1.55"/><circle cx="660.31" cy="332.7" r="1.55"/><circle cx="661.36" cy="332.71" r="1.55"/><circle cx="662.42" cy="332.71" r="1.55"/><circle cx="663.47" cy="332.72" r="1.55"/><circle cx="664.53" cy="332.72" r="1.55"/><circle cx="665.58" cy="332.73" r="1.55"/><circle cx="666.64" cy="332.73" r="1.55"/><circle cx="671.92" cy="332.76" r="1.55"/><circle cx="672.97" cy="332.76" r="1.55"/><circle cx="677.19" cy="332.77" r="1.55"/><circle cx="678.25" cy="332.77" r="1.55"/><circle cx="679.31" cy="332.78" r="1.55"/></g>
<polyline points="560.25,332.7 561.3,332.7 562.36,332.69 563.41,332.69 564.47,332.67 565.52,332.65 566.58,332.62 567.63,332.58 568.69,332.53 569.74,332.47 570.8,332.41 571.86,332.33 572.91,332.15 573.97,331.86 575.02,331.49 576.08,331.05 577.13,330.51 578.19,329.71 579.24,328.65 580.3,327.4 581.36,325.97 582.41,324.19 583.47,321.81 584.52,319.23 585.58,316.4 586.63,313.2 587.69,309.5 588.74,304.98 589.8,299.13 590.85,288.7 591.91,275.99 592.97,262.53 594.02,250.94 595.08,242.76 596.13,235.88 597.19,228.89 598.24,223.54 599.3,220.06 600.35,222.6 601.41,231.99 602.47,245.08 603.52,259.93 604.58,276.08 605.63,288.53 606.69,298.63 607.74,309.47 608.8,321.29 609.85,314.12 610.91,302.75 611.96,292.65 613.02,281.61 614.08,266.55 615.13,250.58 616.19,236.97 617.24,225.88 618.3,219.62 619.35,221.92 620.41,226.35 621.46,233.13 622.52,239.94 623.58,247.41 624.63,257.44 625.69,270.64 626.74,283.52 627.8,295.74 628.85,302.9 629.91,307.79 630.96,311.8 632.02,315.17 633.07,318.14 634.13,320.78 635.19,323.28 636.24,325.35 637.3,326.85 638.35,328.17 639.41,329.31 640.46,330.22 641.52,330.86 642.57,331.32 643.63,331.72 644.69,332.04 645.74,332.27 646.8,332.38 647.85,332.45 648.91,332.51 649.96,332.56 651.02,332.6 652.07,332.64 653.13,332.66 654.18,332.68 655.24,332.69 656.3,332.7 657.35,332.7 658.41,332.71 659.46,332.71" fill="none" stroke="#22cc22" stroke-width="0.5"/>
<g fill="#0ce80c"><rect x="522.91" y="331.35" width="2.9" height="2.9"/><rect x="530.3" y="331.34" width="2.9" height="2.9"/><rect x="531.35" y="331.34" width="2.9" height="2.9"/><rect x="537.69" y="331.33" width="2.9" height="2.9"/><rect x="538.74" y="331.33" width="2.9" height="2.9"/><rect x="545.07" y="331.31" width="2.9" height="2.9"/><rect x="548.24" y="331.3" width="2.9" height="2.9"/><rect x="549.3" y="331.3" width="2.9" height="2.9"/><rect x="550.35" y="331.29" width="2.9" height="2.9"/><rect x="551.41" y="331.29" width="2.9" height="2.9"/><rect x="552.46" y="331.28" width="2.9" height="2.9"/><rect x="553.52" y="331.28" width="2.9" height="2.9"/><rect x="554.57" y="331.27" width="2.9" height="2.9"/><rect x="555.63" y="331.27" width="2.9" height="2.9"/><rect x="556.68" y="331.26" width="2.9" height="2.9"/><rect x="557.74" y="331.26" width="2.9" height="2.9"/><rect x="558.8" y="331.25" width="2.9" height="2.9"/><rect x="559.85" y="331.25" width="2.9" height="2.9"/><rect x="560.91" y="331.24" width="2.9" height="2.9"/><rect x="561.96" y="331.24" width="2.9" height="2.9"/><rect x="563.02" y="331.22" width="2.9" height="2.9"/><rect x="564.07" y="331.2" width="2.9" height="2.9"/><rect x="565.13" y="331.17" width="2.9" height="2.9"/><rect x="566.18" y="331.13" width="2.9" height="2.9"/><rect x="567.24" y="331.08" width="2.9" height="2.9"/><rect x="568.29" y="331.02" width="2.9" height="2.9"/><rect x="569.35" y="330.96" width="2.9" height="2.9"/><rect x="570.41" y="330.88" width="2.9" height="2.9"/><rect x="571.46" y="330.7" width="2.9" height="2.9"/><rect x="572.52" y="330.41" width="2.9" height="2.9"/><rect x="573.57" y="330.04" width="2.9" height="2.9"/><rect x="574.63" y="329.6" width="2.9" height="2.9"/><rect x="575.68" y="329.06" width="2.9" height="2.9"/><rect x="576.74" y="328.26" width="2.9" height="2.9"/><rect x="577.79" y="327.2" width="2.9" height="2.9"/><rect x="578.85" y="325.95" width="2.9" height="2.9"/><rect x="579.91" y="324.52" width="2.9" height="2.9"/><rect x="580.96" y="322.74" width="2.9" height="2.9"/><rect x="582.02" y="320.36" width="2.9" height="2.9"/><rect x="583.07" y="317.78" width="2.9" height="2.9"/><rect x="584.13" y="314.95" width="2.9" height="2.9"/><rect x="585.18" y="311.75" width="2.9" height="2.9"/><rect x="586.24" y="308.05" width="2.9" height="2.9"/><rect x="587.29" y="303.53" width="2.9" height="2.9"/><rect x="588.35" y="297.68" width="2.9" height="2.9"/><rect x="589.4" y="287.25" width="2.9" height="2.9"/><rect x="590.46" y="274.54" width="2.9" height="2.9"/><rect x="591.52" y="261.08" width="2.9" height="2.9"/><rect x="592.57" y="249.49" width="2.9" height="2.9"/><rect x="593.63" y="241.31" width="2.9" height="2.9"/><rect x="594.68" y="234.43" width="2.9" height="2.9"/><rect x="595.74" y="227.44" width="2.9" height="2.9"/><rect x="596.79" y="222.09" width="2.9" height="2.9"/><rect x="597.85" y="218.61" width="2.9" height="2.9"/><rect x="598.9" y="221.15" width="2.9" height="2.9"/><rect x="599.96" y="230.54" width="2.9" height="2.9"/><rect x="601.02" y="243.63" width="2.9" height="2.9"/><rect x="602.07" y="258.48" width="2.9" height="2.9"/><rect x="603.13" y="274.63" width="2.9" height="2.9"/><rect x="604.18" y="287.08" width="2.9" height="2.9"/><rect x="605.24" y="297.18" width="2.9" height="2.9"/><rect x="606.29" y="308.02" width="2.9" height="2.9"/><rect x="607.35" y="319.84" width="2.9" height="2.9"/><rect x="608.4" y="312.67" width="2.9" height="2.9"/><rect x="609.46" y="301.3" width="2.9" height="2.9"/><rect x="610.51" y="291.2" width="2.9" height="2.9"/><rect x="611.57" y="280.16" width="2.9" height="2.9"/><rect x="612.63" y="265.1" width="2.9" height="2.9"/><rect x="613.68" y="249.13" width="2.9" height="2.9"/><rect x="614.74" y="235.52" width="2.9" height="2.9"/><rect x="615.79" y="224.43" width="2.9" height="2.9"/><rect x="616.85" y="218.17" width="2.9" height="2.9"/><rect x="617.9" y="220.47" width="2.9" height="2.9"/><rect x="618.96" y="224.9" width="2.9" height="2.9"/><rect x="620.01" y="231.68" width="2.9" height="2.9"/><rect x="621.07" y="238.49" width="2.9" height="2.9"/><rect x="622.13" y="245.96" width="2.9" height="2.9"/><rect x="623.18" y="255.99" width="2.9" height="2.9"/><rect x="624.24" y="269.19" width="2.9" height="2.9"/><rect x="625.29" y="282.07" width="2.9" height="2.9"/><rect x="626.35" y="294.29" width="2.9" height="2.9"/><rect x="627.4" y="301.45" width="2.9" height="2.9"/><rect x="628.46" y="306.34" width="2.9" height="2.9"/><rect x="629.51" y="310.35" width="2.9" height="2.9"/><rect x="630.57" y="313.72" width="2.9" height="2.9"/><rect x="631.62" y="316.69" width="2.9" height="2.9"/><rect x="632.68" y="319.33" width="2.9" height="2.9"/><rect x="633.74" y="321.83" width="2.9" height="2.9"/><rect x="634.79" y="323.9" width="2.9" height="2.9"/><rect x="635.85" y="325.4" width="2.9" height="2.9"/><rect x="636.9" y="326.72" width="2.9" height="2.9"/><rect x="637.96" y="327.86" width="2.9" height="2.9"/><rect x="639.01" y="328.77" width="2.9" height="2.9"/><rect x="640.07" y="329.41" width="2.9" height="2.9"/><rect x="641.12" y="329.87" width="2.9" height="2.9"/><rect x="642.18" y="330.27" width="2.9" height="2.9"/><rect x="643.24" y="330.59" width="2.9" height="2.9"/><rect x="644.29" y="330.82" width="2.9" height="2.9"/><rect x="645.35" y="330.93" width="2.9" height="2.9"/><rect x="646.4" y="331" width="2.9" height="2.9"/><rect x="647.46" y="331.06" width="2.9" height="2.9"/><rect x="648.51" y="331.11" width="2.9" height="2.9"/><rect x="649.57" y="331.15" width="2.9" height="2.9"/><rect x="650.62" y="331.19" width="2.9" height="2.9"/><rect x="651.68" y="331.21" width="2.9" height="2.9"/><rect x="652.73" y="331.23" width="2.9" height="2.9"/><rect x="653.79" y="331.24" width="2.9" height="2.9"/><rect x="654.85" y="331.25" width="2.9" height="2.9"/><rect x="655.9" y="331.25" width="2.9" height="2.9"/><rect x="656.96" y="331.26" width="2.9" height="2.9"/><rect x="658.01" y="331.26" width="2.9" height="2.9"/><rect x="659.07" y="331.27" width="2.9" height="2.9"/><rect x="660.12" y="331.27" width="2.9" height="2.9"/><rect x="661.18" y="331.28" width="2.9" height="2.9"/><rect x="662.23" y="331.28" width="2.9" height="2.9"/><rect x="663.29" y="331.29" width="2.9" height="2.9"/><rect x="664.35" y="331.29" width="2.9" height="2.9"/><rect x="665.4" y="331.29" width="2.9" height="2.9"/><rect x="670.68" y="331.31" width="2.9" height="2.9"/><rect x="671.73" y="331.31" width="2.9" height="2.9"/><rect x="675.96" y="331.32" width="2.9" height="2.9"/><rect x="677.01" y="331.33" width="2.9" height="2.9"/><rect x="687.57" y="331.34" width="2.9" height="2.9"/></g>
</g>
<text x="534.28" y="350.6" font-family='"Liberation Sans", Arial, sans-serif' font-size="7.6" font-weight="bold" fill="#222" text-anchor="middle">45</text>
<text x="555.39" y="350.6" font-family='"Liberation Sans", Arial, sans-serif' font-size="7.6" font-weight="bold" fill="#222" text-anchor="middle">50</text>
<text x="576.5" y="350.6" font-family='"Liberation Sans", Arial, sans-serif' font-size="7.6" font-weight="bold" fill="#222" text-anchor="middle">55</text>
<text x="597.61" y="350.6" font-family='"Liberation Sans", Arial, sans-serif' font-size="7.6" font-weight="bold" fill="#222" text-anchor="middle">60</text>
<text x="618.72" y="350.6" font-family='"Liberation Sans", Arial, sans-serif' font-size="7.6" font-weight="bold" fill="#222" text-anchor="middle">65</text>
<text x="639.83" y="350.6" font-family='"Liberation Sans", Arial, sans-serif' font-size="7.6" font-weight="bold" fill="#222" text-anchor="middle">70</text>
<text x="660.94" y="350.6" font-family='"Liberation Sans", Arial, sans-serif' font-size="7.6" font-weight="bold" fill="#222" text-anchor="middle">75</text>
<text x="682.05" y="350.6" font-family='"Liberation Sans", Arial, sans-serif' font-size="7.6" font-weight="bold" fill="#222" text-anchor="middle">80</text>
<text x="516.8" y="336" font-family='"Liberation Sans", Arial, sans-serif' font-size="8.8" font-weight="bold" fill="#222" text-anchor="end">0</text>
<text x="516.8" y="314.4" font-family='"Liberation Sans", Arial, sans-serif' font-size="8.8" font-weight="bold" fill="#222" text-anchor="end">1E5</text>
<text x="516.8" y="292.8" font-family='"Liberation Sans", Arial, sans-serif' font-size="8.8" font-weight="bold" fill="#222" text-anchor="end">2E5</text>
<text x="516.8" y="271.2" font-family='"Liberation Sans", Arial, sans-serif' font-size="8.8" font-weight="bold" fill="#222" text-anchor="end">3E5</text>
<text x="516.8" y="249.6" font-family='"Liberation Sans", Arial, sans-serif' font-size="8.8" font-weight="bold" fill="#222" text-anchor="end">4E5</text>
<text x="516.8" y="228" font-family='"Liberation Sans", Arial, sans-serif' font-size="8.8" font-weight="bold" fill="#222" text-anchor="end">5E5</text>
<text x="694.2" y="342.6" font-family='"Liberation Sans", Arial, sans-serif' font-size="7.1" font-weight="bold" fill="#222" text-anchor="start">1.450</text>
<text x="694.2" y="307.9" font-family='"Liberation Sans", Arial, sans-serif' font-size="7.1" font-weight="bold" fill="#222" text-anchor="start">1.455</text>
<text x="694.2" y="273.2" font-family='"Liberation Sans", Arial, sans-serif' font-size="7.1" font-weight="bold" fill="#222" text-anchor="start">1.460</text>
<text x="694.2" y="238.5" font-family='"Liberation Sans", Arial, sans-serif' font-size="7.1" font-weight="bold" fill="#222" text-anchor="start">1.465</text>
<text x="531" y="233.6" font-family='"Liberation Sans", Arial, sans-serif' font-size="11.3" font-weight="bold" fill="#000" text-anchor="start" textLength="34.6" lengthAdjust="spacingAndGlyphs">980nm</text>
<text x="494.8" y="280" font-family='"Liberation Sans", Arial, sans-serif' font-size="10.5" font-weight="bold" fill="#000" text-anchor="middle" transform="rotate(-90 494.8 280)" textLength="126" lengthAdjust="spacing">Normalized electric field</text>
<text x="606.3" y="364.9" font-family='"Liberation Sans", Arial, sans-serif' font-size="10.2" font-weight="bold" fill="#000" text-anchor="middle" textLength="74" lengthAdjust="spacing" xml:space="preserve">Distance  (μm)</text>
<text x="724" y="277" font-family='"Liberation Sans", Arial, sans-serif' font-size="13" font-weight="bold" fill="#000" text-anchor="middle" transform="rotate(-90 724 277)" textLength="98" lengthAdjust="spacingAndGlyphs">Refractive index</text>
</g>
</svg></body></html>
